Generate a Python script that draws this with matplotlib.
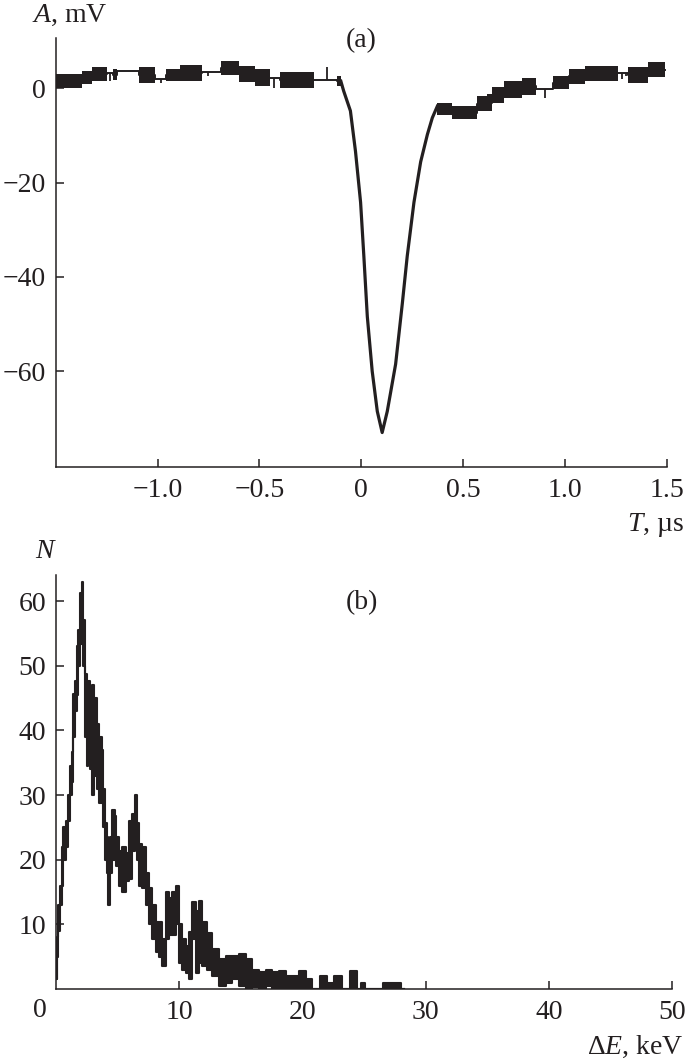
import matplotlib.pyplot as plt
import numpy as np

plt.rcParams['font.family'] = 'Liberation Serif'
plt.rcParams['mathtext.fontset'] = 'custom'
plt.rcParams['mathtext.rm'] = 'Liberation Serif'
plt.rcParams['mathtext.it'] = 'Liberation Serif:italic'
plt.rcParams['font.size'] = 20

ink = '#231f20'

# (a) pulse: noisy baseline read as blocks (start/end time, low, high in mV)
seg_t = [-1.50, -1.37, -1.32, -1.25, -1.22, -1.20, -1.09, -1.01, -0.96, -0.89,
         -0.78, -0.69, -0.60, -0.52, -0.45, -0.40, -0.23, -0.118, -0.10]
seg_lo = [0.0, 0.9, 1.6, 3.3, 1.8, 3.6, 1.2, 2.0, 1.6, 1.6,
          3.5, 2.9, 1.4, 0.4, 2.2, 0.1, 1.8, 0.5]
seg_hi = [3.0, 3.7, 4.4, 3.3, 4.0, 3.6, 4.4, 2.0, 4.1, 5.0,
          3.5, 5.8, 4.7, 4.0, 2.2, 3.5, 1.8, 2.5]

# the pulse itself
dip_t = [-0.10, -0.086, -0.053, -0.028, -0.003, 0.013, 0.030, 0.054, 0.079, 0.103,
         0.128, 0.169, 0.202, 0.226, 0.259, 0.292, 0.325, 0.349, 0.374]
dip_a = [1.5, -0.6, -4.8, -13.4, -24.2, -35.6, -48.4, -60.0, -68.5, -73.0,
         -68.5, -58.5, -45.6, -35.6, -24.2, -15.6, -9.8, -6.3, -3.8]

# recovery
rec_t = [0.374, 0.448, 0.571, 0.62, 0.64, 0.70, 0.79, 0.86, 0.94, 1.02,
         1.10, 1.26, 1.31, 1.41, 1.49]
rec_lo = [-5.6, -6.6, -4.9, -4.9, -3.1, -2.0, -1.4, -0.2, -0.2, 0.9,
          1.6, 3.3, 1.2, 2.3]
rec_hi = [-3.1, -3.8, -1.7, -1.3, 0.3, 1.6, 2.2, -0.2, 2.6, 4.1,
          4.8, 3.3, 4.4, 5.5]

spike_t = [-1.235, -0.985, -0.75, -0.43, -0.17, 0.90, 1.28, 1.30]
spike_lo = [1.6, 1.0, 2.5, 0.0, 1.8, -2.0, 2.0, 2.5]
spike_hi = [3.3, 2.0, 3.5, 2.2, 4.5, -0.2, 3.3, 3.3]

# (b) spectrum, read as low/high envelope per energy step
e_val = [0.00, 0.14, 0.27, 0.41, 0.54, 0.68, 0.95, 1.08, 1.22, 1.35,
         1.49, 1.62, 1.76, 1.89, 2.03, 2.16, 2.30, 2.43, 2.57, 2.70,
         2.84, 2.97, 3.24, 3.38, 3.65, 3.78, 3.92, 4.05, 4.19, 4.32,
         4.46, 4.73, 4.86, 5.00, 5.27, 5.54, 5.81, 6.08, 6.35, 6.49,
         6.62, 6.89, 7.16, 7.43, 7.70, 7.97, 8.24, 8.51, 8.78, 9.05,
         9.32, 9.59, 9.86, 10.14, 10.41, 10.68, 10.95, 11.22, 11.49, 11.76,
         12.03, 12.43, 12.97, 13.51, 14.05, 14.59, 15.14, 15.68, 16.22, 16.76,
         17.30, 17.84, 18.38, 18.92, 19.46, 20.00, 20.54, 21.08, 21.76, 22.30,
         22.89, 23.5, 24.3, 24.6, 24.9, 25.3, 27.8, 28.2]
n_lo = [1.5, 5, 9, 13, 16, 20, 22, 26, 30, 32,
        39, 43, 45.5, 50, 53.4, 55, 50, 39, 34.5, 38,
        34, 30, 33, 31, 28.8, 29.3, 25, 20, 18, 13,
        18, 20, 21, 19, 16, 15, 16.7, 17, 21.4, 23.5,
        20, 16, 15.6, 13, 10, 7.8, 5.7, 5, 3.6, 7.8,
        8.3, 8.3, 10, 4, 3, 2.5, 1.5, 7.8, 2.5, 4,
        3.6, 3, 2, 0.5, 1, 1.5, 0.5, 0, 0.3, 0,
        0.5, 0, 0, 0, 0, 0, 0, 0, 0, 0,
        0, 0, 0, 0, 0, 0, 0, 0]
n_hi = [1.5, 8, 13, 16, 22, 25, 26, 30, 34.5, 36.6,
        45.6, 47.7, 53, 55.5, 61.3, 63, 57, 48.7, 46.6, 47.7,
        45.6, 47, 45, 41, 39, 37, 31, 25.6, 23.5, 20,
        23.5, 27.7, 26.7, 23.5, 21.4, 22, 21, 26, 27, 30,
        25.6, 22.5, 22, 18, 15.6, 13, 10.4, 10.4, 7.8, 15,
        14, 15, 16, 10, 7.8, 6.7, 8.8, 13.5, 12, 13.6,
        10.3, 8.7, 6.2, 4.6, 5.1, 5.1, 5.4, 4.6, 3, 2.6,
        3, 2.6, 2.8, 2, 2, 2.8, 1.5, 0, 2, 1,
        2, 0, 2.8, 0, 0.9, 0, 0.9, 0]

fig = plt.figure(figsize=(6.85, 10.63), dpi=100)
ax_a = fig.add_axes([0.0813, 0.5607, 0.8920, 0.4038])
ax_b = fig.add_axes([0.0813, 0.0696, 0.9003, 0.3893])


def blocks(ax, t, lo, hi):
    lo2 = lo + [lo[-1]]
    hi2 = hi + [hi[-1]]
    mid = [(a + b) / 2 for a, b in zip(lo2, hi2)]
    ax.fill_between(t, lo2, hi2, step='post', color=ink, lw=0)
    ax.step(t, mid, where='post', color=ink, lw=1.4)


blocks(ax_a, seg_t, seg_lo, seg_hi)
blocks(ax_a, rec_t, rec_lo, rec_hi)
ax_a.plot(dip_t, dip_a, color=ink, lw=2.3, solid_joinstyle='round')
ax_a.vlines(spike_t, spike_lo, spike_hi, color=ink, lw=1.3)

ax_b.fill_between(e_val, n_lo, n_hi, step='mid', color=ink, lw=0)
ax_b.step(e_val, n_lo, where='mid', color=ink, lw=1.5)
ax_b.step(e_val, n_hi, where='mid', color=ink, lw=1.5)

for ax in (ax_a, ax_b):
    for s in ('top', 'right'):
        ax.spines[s].set_visible(False)
    for s in ('left', 'bottom'):
        ax.spines[s].set_linewidth(1.1)
        ax.spines[s].set_color(ink)
    ax.tick_params(direction='in', length=6, width=1.1, color=ink,
                   labelcolor=ink, labelsize=20)
    ax.tick_params(axis='y', pad=7)
    ax.tick_params(axis='x', pad=8)

ax_a.set_xlim(-1.5, 1.5)
ax_a.set_ylim(-80.3, 10.7)
ax_a.set_xticks([-1.0, -0.5, 0, 0.5, 1.0, 1.5])
ax_a.set_xticklabels(['\u22121.0', '\u22120.5', '0', '0.5', '1.0', '1.5'])
ax_a.set_yticks([0, -20, -40, -60])
ax_a.set_yticklabels(['0', '\u221220', '\u221240', '\u221260'])
ax_a.text(0.0, 10.0, '(a)', ha='center', va='center', color=ink)

ax_b.set_xlim(0, 50)
ax_b.set_ylim(0, 64)
ax_b.set_xticks([10, 20, 30, 40, 50])
ax_b.set_yticks([10, 20, 30, 40, 50, 60])
ax_b.text(24.8, 59.8, '(b)', ha='center', va='center', color=ink)
ax_b.text(-1.3, -0.052, '0', ha='center', va='center', color=ink,
          transform=ax_b.get_xaxis_transform(), clip_on=False)

fig.text(32 / 685, 1 - 15 / 1063, '$A$, mV', ha='left', va='center', color=ink)
fig.text(684 / 685, 1 - 525 / 1063, '$T$, \u00b5s', ha='right', va='center', color=ink)
fig.text(46 / 685, 1 - 552 / 1063, '$N$', ha='center', va='center', color=ink)
fig.text(684 / 685, 1 - 1047 / 1063, '\u0394$E$, keV', ha='right', va='center', color=ink)

fig.savefig('out.png', dpi=100, facecolor='white')
